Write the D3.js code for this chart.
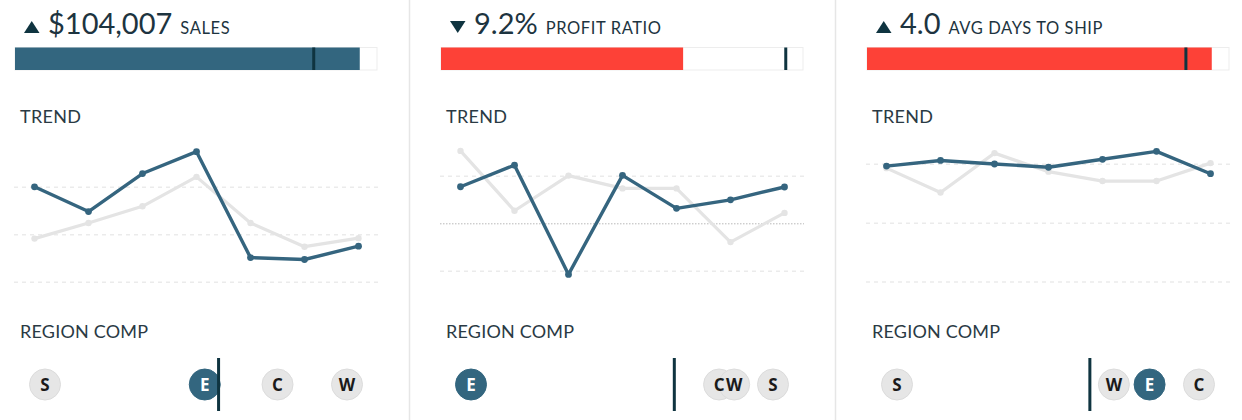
<!DOCTYPE html>
<html>
<head>
<meta charset="utf-8">
<script src="https://cdn.jsdelivr.net/npm/d3@7"></script>
<style>
  body { margin: 0; background: #fff; }
  svg { display: block; font-family: Lato, "Open Sans", sans-serif; }
</style>
</head>
<body>
<script>
// KPI headers
var kpiNames = ["SALES", "PROFIT RATIO", "AVG DAYS TO SHIP"];
var kpiValues = [104007, 9.2, 4.0];
var kpiPrior = [90120, 13.1, 3.7];
var kpiLabels = ["$104,007", "9.2%", "4.0"];
var kpiBetter = ["up", "up", "down"];   // which direction is good

// Trend: 7 periods, current year vs prior year
var trendCurrent = [
  [20100, 14900, 22900, 27500, 5200, 4800, 7600],
  [15.6, 24.7, -21.3, 20.4, 6.5, 10.1, 15.5],
  [3.94, 4.13, 4.01, 3.90, 4.17, 4.44, 3.68]
];
var trendPrior = [
  [9200, 12500, 16000, 22200, 12500, 7500, 9300],
  [30.7, 5.5, 20.3, 14.9, 14.9, -7.7, 4.6],
  [3.87, 3.04, 4.38, 3.75, 3.43, 3.43, 4.04]
];
var trendTicks = [[0, 10000, 20000], [-20, 0, 20], [0, 2, 4]];

// Region comparison
var regions = [
  ["S", "E", "C", "W"],
  ["E", "C", "W", "S"],
  ["S", "W", "E", "C"]
];
var regionValues = [
  [15000, 25126, 29739, 34142],
  [2.0, 13.5, 14.2, 16.0],
  [3.2, 3.99, 4.12, 4.3]
];
var selectedRegion = "E";

// Layout
var W = 1242, H = 420, panelW = 426;
var blue = "#33667f", red = "#fd4137", dark = "#0f3440", grey = "#e4e4e4", textCol = "#2a3a44";
var yRanges = [[282.3, 187.3], [271.3, 176.3], [282, 164.3]];

var svg = d3.select("body").append("svg")
    .attr("width", W)
    .attr("height", H);

// separators
[1, 2].forEach(function(i) {
  svg.append("line")
      .attr("x1", panelW * i - 16.5).attr("x2", panelW * i - 16.5)
      .attr("y1", 0).attr("y2", H)
      .attr("stroke", "#e6e6e6").attr("stroke-width", 1.5);
});

kpiNames.forEach(function(name, i) {
  var g = svg.append("g").attr("transform", "translate(" + panelW * i + ",0)");
  var value = kpiValues[i], prior = kpiPrior[i];
  var isUp = value >= prior;
  var good = (kpiBetter[i] === "up") === isUp;

  // ---- header ----
  var tri = isUp ? [[24, 33], [39.5, 33], [31.75, 21]] : [[24, 21], [39.5, 21], [31.75, 33]];
  g.append("path")
      .attr("d", "M" + tri.join("L") + "Z")
      .attr("fill", dark);
  var big = g.append("text")
      .attr("x", 48).attr("y", 34)
      .attr("font-size", 29)
      .attr("fill", "#1d3440")
      .text(kpiLabels[i]);
  var bw = big.node().getComputedTextLength();
  g.append("text")
      .attr("x", 48 + bw + 8).attr("y", 33.5)
      .attr("font-size", 16.5)
      .attr("letter-spacing", 0.6)
      .attr("fill", "#1d3440")
      .text(name);

  // ---- bullet bar ----
  var xBar = d3.scaleLinear()
      .domain([0, 1.05 * Math.max(value, prior)])
      .range([15, 377]);
  g.append("rect")
      .attr("x", 15).attr("y", 47.5)
      .attr("width", 362).attr("height", 22.5)
      .attr("fill", "#fff").attr("stroke", "#ededed");
  g.append("rect")
      .attr("x", xBar(0)).attr("y", 47.5)
      .attr("width", xBar(value) - xBar(0)).attr("height", 22.5)
      .attr("fill", good ? blue : red);
  g.append("rect")
      .attr("x", xBar(prior) - 1.5).attr("y", 47.5)
      .attr("width", 3).attr("height", 22.5)
      .attr("fill", dark);

  // ---- trend ----
  g.append("text")
      .attr("x", 20).attr("y", 122.5)
      .attr("font-size", 18)
      .attr("letter-spacing", 0.3)
      .attr("fill", textCol)
      .text("TREND");

  var xT = d3.scalePoint()
      .domain(d3.range(trendCurrent[i].length))
      .range([34.5, 358.5]);
  var yT = d3.scaleLinear()
      .domain([trendTicks[i][0], trendTicks[i][trendTicks[i].length - 1]])
      .range(yRanges[i]);

  g.selectAll(".grid")
      .data(trendTicks[i])
      .enter().append("line")
      .attr("class", "grid")
      .attr("x1", 14).attr("x2", 378)
      .attr("y1", function(d) { return yT(d); })
      .attr("y2", function(d) { return yT(d); })
      .attr("stroke", function(d) { return (d === 0 && i === 1) ? "#b8b8b8" : "#ebebeb"; })
      .attr("stroke-width", function(d) { return (d === 0 && i === 1) ? 1 : 1.5; })
      .attr("stroke-dasharray", function(d) { return (d === 0 && i === 1) ? "1.5,1.5" : "4,4"; });

  var line = d3.line()
      .x(function(d, j) { return xT(j); })
      .y(function(d) { return yT(d); });

  [[trendPrior[i], grey, 3.2, 3.2], [trendCurrent[i], "#35657f", 3.4, 3.4]].forEach(function(s) {
    g.append("path")
        .attr("d", line(s[0]))
        .attr("fill", "none")
        .attr("stroke", s[1])
        .attr("stroke-width", s[2])
        .attr("stroke-linejoin", "round");
    g.selectAll(null)
        .data(s[0])
        .enter().append("circle")
        .attr("cx", function(d, j) { return xT(j); })
        .attr("cy", function(d) { return yT(d); })
        .attr("r", s[3])
        .attr("fill", s[1]);
  });

  // ---- region comp ----
  g.append("text")
      .attr("x", 20).attr("y", 337.5)
      .attr("font-size", 18)
      .attr("letter-spacing", 0.2)
      .attr("fill", textCol)
      .text("REGION COMP");

  var rData = regions[i].map(function(r, j) { return {region: r, value: regionValues[i][j]}; });
  var xR = d3.scaleLinear()
      .domain(d3.extent(regionValues[i]))
      .range([45, 347]);
  var avg = d3.mean(regionValues[i]);

  // circles first, then all letters on top so overlapping dots stay readable
  g.selectAll(".reg")
      .data(rData)
      .enter().append("circle")
      .attr("class", "reg")
      .attr("cx", function(d) { return xR(d.value); })
      .attr("cy", 384.5)
      .attr("r", 15.5)
      .attr("fill", function(d) { return d.region === selectedRegion ? blue : "#e6e6e6"; })
      .attr("stroke", function(d) { return d.region === selectedRegion ? blue : "#dcdcdc"; })
      .attr("stroke-width", 1);
  g.selectAll(".regLabel")
      .data(rData)
      .enter().append("text")
      .attr("class", "regLabel")
      .attr("x", function(d) { return xR(d.value); })
      .attr("y", 384.5)
      .attr("text-anchor", "middle")
      .attr("dy", "0.36em")
      .attr("font-size", 17)
      .attr("font-weight", "bold")
      .attr("font-family", "'Open Sans', sans-serif")
      .attr("fill", function(d) { return d.region === selectedRegion ? "#fff" : "#1a1a1a"; })
      .text(function(d) { return d.region; });

  g.append("rect")
      .attr("x", xR(avg) - 1.5).attr("y", 358)
      .attr("width", 3).attr("height", 53)
      .attr("fill", dark);
});
</script>
</body>
</html>
